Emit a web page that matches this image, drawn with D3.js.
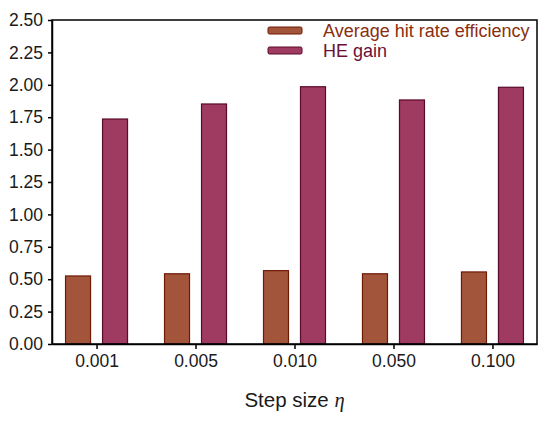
<!DOCTYPE html>
<meta charset="utf-8">
<title>Step size chart</title>
<script src="https://d3js.org/d3.v7.min.js"></script>
<style>
body {
	margin: 0;
	background: #fff;
}
</style>
<body>
<script>
// Data
const stepSizes = ['0.001', '0.005', '0.010', '0.050', '0.100'];
const hitRate = [0.525, 0.542, 0.566, 0.542, 0.556];
const heGain = [1.736, 1.852, 1.985, 1.883, 1.981];
const serieNames = ['Average hit rate efficiency', 'HE gain'];
const yTicks = [0, 0.25, 0.5, 0.75, 1, 1.25, 1.5, 1.75, 2, 2.25, 2.5];

const fills = ['#a3553b', '#9f3a60'];
const strokes = ['#6e1a05', '#5a0a2a'];
const textColors = ['#8a2e0e', '#6a1038'];
const font = 'Liberation Sans, Arial, sans-serif';
const fontSize = 17.5;

const width = 550;
const height = 421;
const margin = {top: 20, right: 13, bottom: 77, left: 52};
const barWidth = 25;
const barGap = 12;

const x = d3.scalePoint()
	.domain(stepSizes)
	.range([margin.left, width - margin.right])
	.padding(0.45);
const y = d3.scaleLinear()
	.domain([0, 2.5])
	.range([height - margin.bottom, margin.top]);

const svg = d3.select('body')
	.append('svg')
		.attr('width', width)
		.attr('height', height)
		.attr('font-family', font);

const series = [hitRate, heGain];
series.forEach((values, s) => {
	const shift = s === 0 ? -(barGap / 2 + barWidth) : barGap / 2;
	svg.append('g')
		.selectAll('rect')
		.data(values)
		.enter()
		.append('rect')
			.attr('x', (d, i) => x(stepSizes[i]) + shift)
			.attr('y', d => y(d))
			.attr('width', barWidth)
			.attr('height', d => y(0) - y(d))
			.attr('fill', fills[s])
			.attr('stroke', strokes[s])
			.attr('stroke-width', 1.2);
});

// Frame
svg.append('rect')
	.attr('x', margin.left)
	.attr('y', margin.top)
	.attr('width', width - margin.left - margin.right)
	.attr('height', height - margin.top - margin.bottom)
	.attr('fill', 'none')
	.attr('stroke', '#000')
	.attr('stroke-width', 1.5);

// Y axis
const leftAxis = svg.append('g')
	.attr('transform', `translate(${margin.left},0)`)
	.call(d3.axisLeft(y)
		.tickValues(yTicks)
		.tickFormat(d3.format('.2f'))
		.tickSizeInner(4)
		.tickSizeOuter(0)
		.tickPadding(5));

// X axis
const bottomAxis = svg.append('g')
	.attr('transform', `translate(0,${height - margin.bottom})`)
	.call(d3.axisBottom(x)
		.tickSizeInner(5)
		.tickSizeOuter(0)
		.tickPadding(6));

[leftAxis, bottomAxis].forEach(axis => {
	axis.attr('font-size', fontSize);
	axis.selectAll('.domain')
		.attr('stroke', '#000')
		.attr('stroke-width', 1.5);
	axis.selectAll('.tick line')
		.attr('stroke', '#000')
		.attr('stroke-width', 1.5);
	axis.selectAll('text')
		.attr('font-family', font)
		.attr('font-size', fontSize)
		.attr('fill', '#1a1a1a');
});

// Axis title
const title = svg.append('text')
	.attr('x', (margin.left + width - margin.right) / 2)
	.attr('y', 407)
	.attr('text-anchor', 'middle')
	.attr('font-size', 20.5)
	.attr('fill', '#1a1a1a');
title.append('tspan').text('Step size ');
title.append('tspan')
	.attr('font-family', 'Liberation Serif, Times New Roman, serif')
	.attr('font-style', 'italic')
	.text('η');

// Legend
const legend = svg.append('g')
	.selectAll('g')
	.data(serieNames)
	.enter()
	.append('g')
		.attr('transform', (d, i) => `translate(268,${27 + i * 20})`);
legend.append('rect')
	.attr('width', 34)
	.attr('height', 7)
	.attr('rx', 1.5)
	.attr('fill', (d, i) => fills[i])
	.attr('stroke', (d, i) => strokes[i])
	.attr('stroke-width', 1);
legend.append('text')
	.attr('x', 55)
	.attr('y', 9.5)
	.attr('font-size', 18)
	.attr('fill', (d, i) => textColors[i])
	.text(d => d);
</script>
</body>
